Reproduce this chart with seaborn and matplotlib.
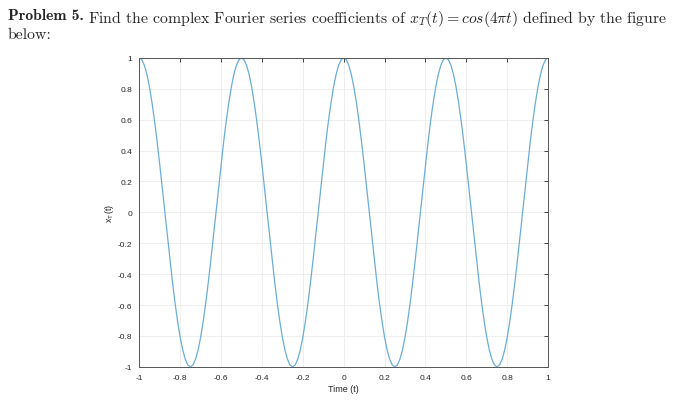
import numpy as np
import matplotlib
matplotlib.use("Agg")
import matplotlib.pyplot as plt
import seaborn as sns
import pandas as pd

# samples of x_T(t), t from -1 to 1 in steps of 0.0125
t_vals = np.linspace(-1, 1, 161)
x_vals = [
    1.000, 0.988, 0.951, 0.891, 0.809, 0.707, 0.588, 0.454, 0.309, 0.156,
    0.000, -0.156, -0.309, -0.454, -0.588, -0.707, -0.809, -0.891, -0.951, -0.988,
    -1.000, -0.988, -0.951, -0.891, -0.809, -0.707, -0.588, -0.454, -0.309, -0.156,
    0.000, 0.156, 0.309, 0.454, 0.588, 0.707, 0.809, 0.891, 0.951, 0.988,
    1.000, 0.988, 0.951, 0.891, 0.809, 0.707, 0.588, 0.454, 0.309, 0.156,
    0.000, -0.156, -0.309, -0.454, -0.588, -0.707, -0.809, -0.891, -0.951, -0.988,
    -1.000, -0.988, -0.951, -0.891, -0.809, -0.707, -0.588, -0.454, -0.309, -0.156,
    0.000, 0.156, 0.309, 0.454, 0.588, 0.707, 0.809, 0.891, 0.951, 0.988,
    1.000, 0.988, 0.951, 0.891, 0.809, 0.707, 0.588, 0.454, 0.309, 0.156,
    0.000, -0.156, -0.309, -0.454, -0.588, -0.707, -0.809, -0.891, -0.951, -0.988,
    -1.000, -0.988, -0.951, -0.891, -0.809, -0.707, -0.588, -0.454, -0.309, -0.156,
    0.000, 0.156, 0.309, 0.454, 0.588, 0.707, 0.809, 0.891, 0.951, 0.988,
    1.000, 0.988, 0.951, 0.891, 0.809, 0.707, 0.588, 0.454, 0.309, 0.156,
    0.000, -0.156, -0.309, -0.454, -0.588, -0.707, -0.809, -0.891, -0.951, -0.988,
    -1.000, -0.988, -0.951, -0.891, -0.809, -0.707, -0.588, -0.454, -0.309, -0.156,
    0.000, 0.156, 0.309, 0.454, 0.588, 0.707, 0.809, 0.891, 0.951, 0.988,
    1.000,
]
x_ticks = [-1, -0.8, -0.6, -0.4, -0.2, 0, 0.2, 0.4, 0.6, 0.8, 1]
y_ticks = [-1, -0.8, -0.6, -0.4, -0.2, 0, 0.2, 0.4, 0.6, 0.8, 1]

df = pd.DataFrame({"t": t_vals, "x": x_vals})

sns.set_style("whitegrid")
plt.rcParams["font.family"] = ["Liberation Sans", "DejaVu Sans"]
plt.rcParams["mathtext.fontset"] = "cm"

fig = plt.figure(figsize=(7, 4.06), dpi=100)
ax = fig.add_axes([0.199, 0.094, 0.584, 0.761])

sns.lineplot(data=df, x="t", y="x", ax=ax, color="#6aaed6", linewidth=0.9)

ax.set_xlim(-1, 1)
ax.set_ylim(-1, 1)
ax.set_xticks(x_ticks)
ax.set_yticks(y_ticks)
fmt = lambda v: "%g" % v
ax.set_xticklabels([fmt(v) for v in x_ticks])
ax.set_yticklabels([fmt(v) for v in y_ticks])
ax.tick_params(direction="in", length=3, width=0.6, labelsize=6,
               colors="#262626", top=True, right=True, pad=5)
ax.grid(True, color="#ebebeb", linewidth=0.6)
for s in ax.spines.values():
    s.set_color("#555555")
    s.set_linewidth(0.7)

ax.set_xlabel("Time (t)", fontsize=6.5, color="#262626", labelpad=2)
ax.set_ylabel(r"x$_\mathregular{T}$(t)", fontsize=6.5, color="#262626", labelpad=1)

# heading above the plot, in Computer Modern like the original document
fs = 11.3
head = fig.text(0.011, 0.95, "Problem 5.", fontfamily="cmb10", fontsize=fs,
                va="baseline", ha="left")
ax.annotate(r" Find the complex Fourier series coefficients of "
            r"$x_T(t) = cos(4\pi t)$ defined by the figure",
            xy=(1, 0), xycoords=head, va="baseline", ha="left",
            fontfamily="cmr10", fontsize=fs, annotation_clip=False)
fig.text(0.011, 0.905, "below:", fontfamily="cmr10", fontsize=fs,
         va="baseline", ha="left")

fig.savefig("out.png", dpi=100)
